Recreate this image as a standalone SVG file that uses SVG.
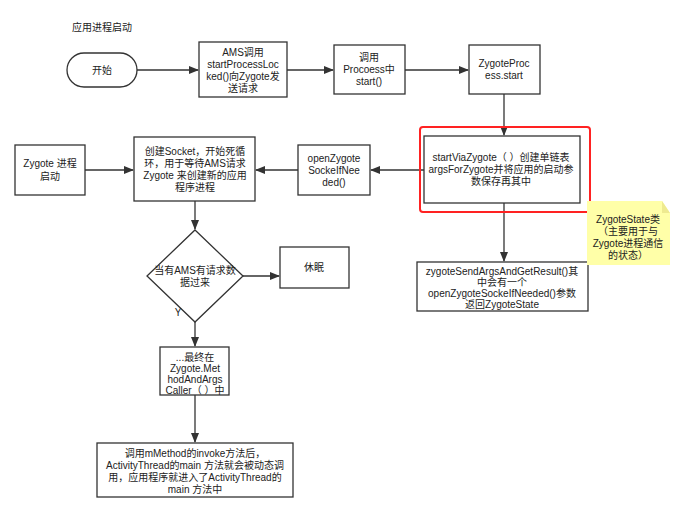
<svg xmlns="http://www.w3.org/2000/svg" width="700" height="509" viewBox="0 0 700 509">
<style>
text{font-family:"Liberation Sans","Noto Sans CJK SC",sans-serif;font-size:10px;fill:#222;text-anchor:middle}
.b{fill:#fff;stroke:#333;stroke-width:1.3}
.c{stroke:#333;stroke-width:1.3;fill:none;marker-end:url(#a)}
</style>
<defs><marker id="a" markerWidth="10" markerHeight="8" refX="9" refY="4" orient="auto" markerUnits="userSpaceOnUse"><path d="M0,0L10,4L0,8z" fill="#333"/></marker></defs>
<rect width="700" height="509" fill="#fff"/>
<text x="102" y="31">应用进程启动</text>
<g id="connectors">
<path class="c" d="M137,70H198"/>
<path class="c" d="M287,70H333"/>
<path class="c" d="M405,70H468"/>
<path class="c" d="M504,94V135"/>
<path class="c" d="M424,170H371"/>
<path class="c" d="M298,170H256"/>
<path class="c" d="M85,170H133"/>
<path class="c" d="M195,201V229"/>
<path class="c" d="M243,276H279"/>
<path class="c" d="M195,322V346"/>
<path class="c" d="M195,395V442"/>
<path class="c" d="M504,203V261"/>
</g>
<g id="start"><rect class="b" x="67" y="53" width="70" height="34" rx="17"/><text x="102" y="74">开始</text></g>
<g id="ams"><rect class="b" x="199" y="42" width="88" height="55"/><text x="243" y="56">AMS调用</text><text x="243" y="68">startProcessLoc</text><text x="243" y="80">ked()向Zygote发</text><text x="243" y="92">送请求</text></g>
<g id="proc"><rect class="b" x="334" y="45" width="71" height="49"/><text x="369" y="61">调用</text><text x="369" y="73">Procoess中</text><text x="369" y="85">start()</text></g>
<g id="zp"><rect class="b" x="469" y="45" width="71" height="49"/><text x="504" y="67">ZygoteProc</text><text x="504" y="79">ess.start</text></g>
<g id="svz"><rect x="420" y="127" width="170" height="85" rx="3" fill="none" stroke="#f22" stroke-width="2"/><rect class="b" x="424" y="136" width="156" height="67"/><text x="501" y="161">startViaZygote（ ）创建单链表</text><text x="501" y="173">argsForZygote并将应用的启动参</text><text x="501" y="185">数保存再其中</text></g>
<g id="zstart"><rect class="b" x="15" y="145" width="70" height="50"/><text x="50" y="167">Zygote 进程</text><text x="50" y="180">启动</text></g>
<g id="socket"><rect class="b" x="134" y="137" width="121" height="64"/><text x="195" y="155">创建Socket，开始死循</text><text x="195" y="167">环，用于等待AMS请求</text><text x="195" y="179">Zygote 来创建新的应用</text><text x="195" y="191">程序进程</text></g>
<g id="open"><rect class="b" x="298" y="145" width="72" height="50"/><text x="334" y="162">openZygote</text><text x="334" y="174">SockeIfNee</text><text x="334" y="186">ded()</text></g>
<g id="dia"><path class="b" d="M195,230L243,276L195,322L147,276Z"/><text x="195" y="274">当有AMS有请求数</text><text x="195" y="286">据过来</text></g>
<text x="178" y="316">Y</text>
<g id="sleep"><rect class="b" x="280" y="247" width="69" height="41"/><text x="314" y="271">休眠</text></g>
<g id="send"><rect class="b" x="417" y="262" width="171" height="49"/><text x="502" y="275">zygoteSendArgsAndGetResult()其</text><text x="502" y="286">中会有一个</text><text x="502" y="297">openZygoteSockeIfNeeded()参数</text><text x="502" y="308">返回ZygoteState</text></g>
<g id="note"><path d="M587,201H662L670,213V265H587Z" fill="#ffffa8"/><path d="M662,201V213H670" fill="#eeea90"/><text x="628" y="223">ZygoteState类</text><text x="628" y="235">（主要用于与</text><text x="628" y="247">Zygote进程通信</text><text x="628" y="259">的状态）</text></g>
<g id="final"><rect class="b" x="160" y="347" width="69" height="48"/><text x="195" y="361">...最终在</text><text x="195" y="372">Zygote.Met</text><text x="195" y="383">hodAndArgs</text><text x="195" y="394">Caller（ ）中</text></g>
<g id="invoke"><rect class="b" x="97" y="443" width="196" height="54"/><text x="195" y="457">调用mMethod的invoke方法后，</text><text x="195" y="469">ActivityThread的main 方法就会被动态调</text><text x="195" y="481">用，应用程序就进入了ActivityThread的</text><text x="195" y="493">main 方法中</text></g>
</svg>
